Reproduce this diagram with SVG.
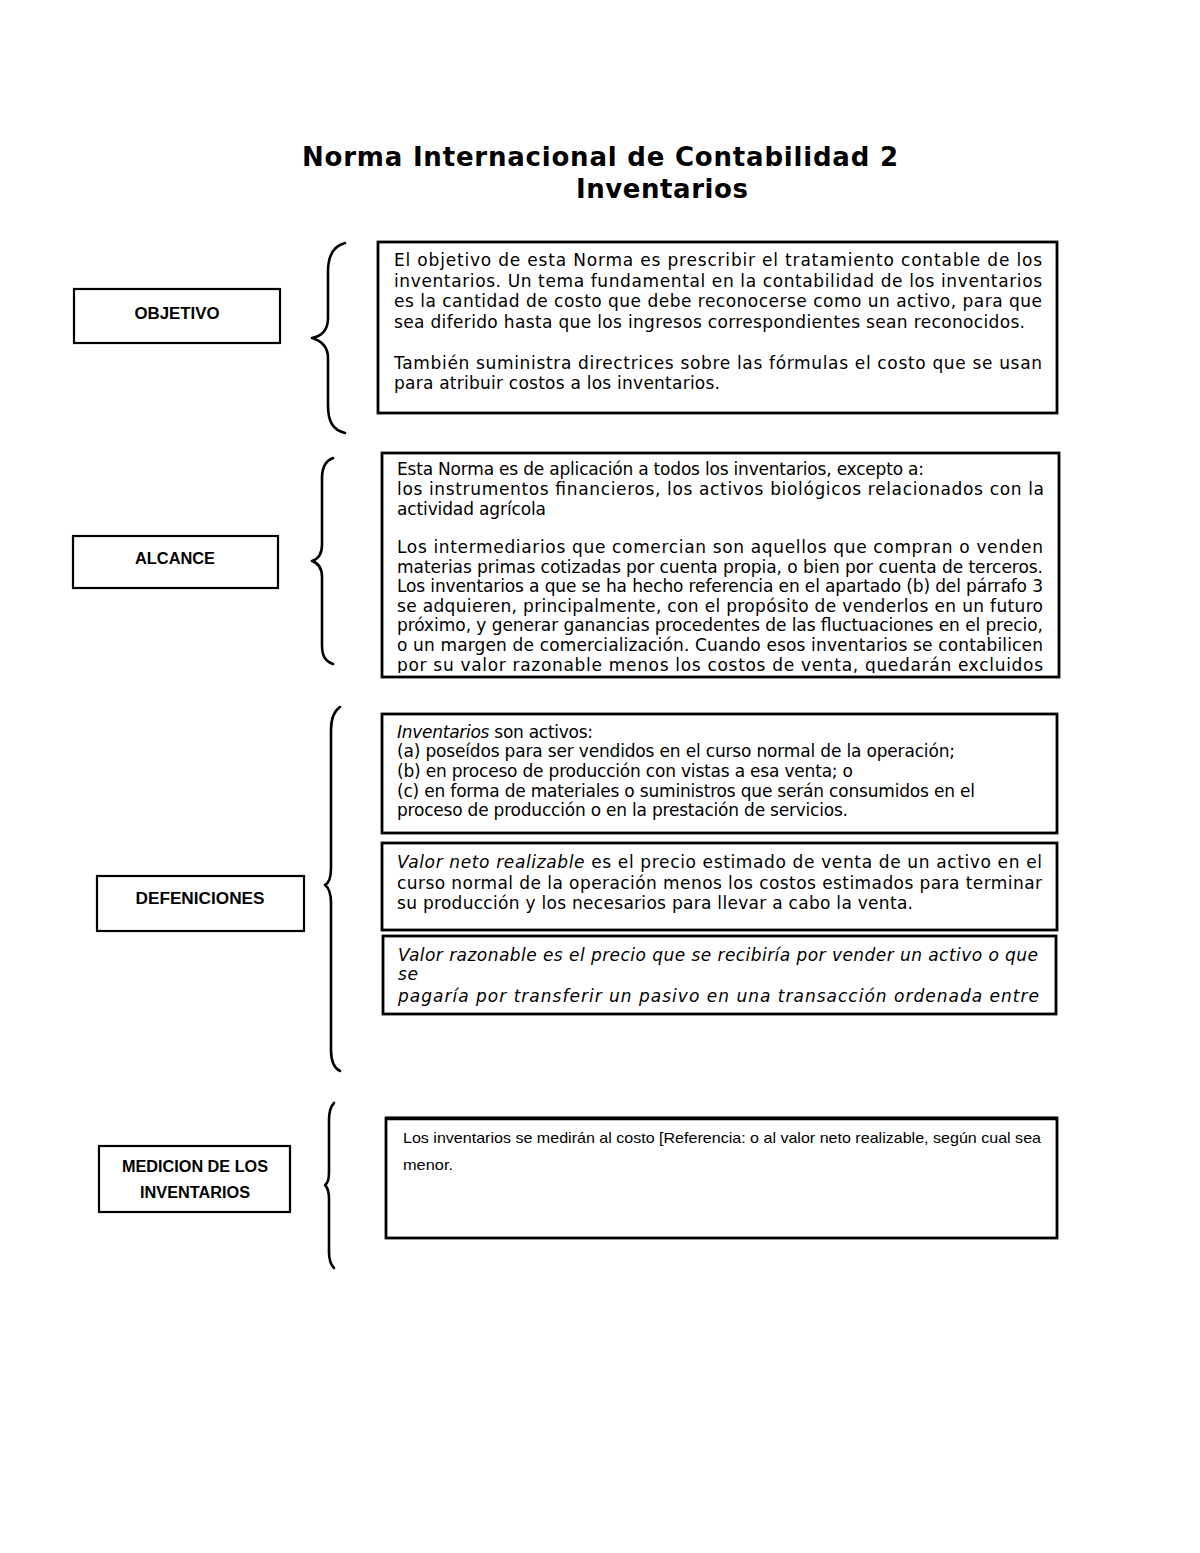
<svg xmlns="http://www.w3.org/2000/svg" width="1200" height="1553" viewBox="0 0 1200 1553">
<style>
.title{font-family:"DejaVu Sans",sans-serif;font-weight:bold;font-size:26px;fill:#000}
.lbl{font-family:"Liberation Sans",Arial,sans-serif;font-weight:bold;font-size:16px;fill:#000;text-anchor:middle}
.body{font-family:"DejaVu Sans",sans-serif;font-size:17px;fill:#000}
.it{font-style:italic}
.small{font-family:"Liberation Sans",Arial,sans-serif;font-size:14.5px;fill:#000}
.lbox{fill:#fff;stroke:#000;stroke-width:2.2}
.tbox{fill:#fff;stroke:#000;stroke-width:2.8}
.brace{fill:none;stroke:#000;stroke-width:2.6;stroke-linecap:round;stroke-linejoin:round}
</style>
<defs>
<clipPath id="clipAlc"><rect x="383" y="454" width="675" height="219"/></clipPath>
</defs>
<rect width="1200" height="1553" fill="#fff"/>
<g id="title">
<text class="title" x="302" y="166" textLength="596" lengthAdjust="spacing">Norma Internacional de Contabilidad 2</text>
<text class="title" x="576" y="198" textLength="172" lengthAdjust="spacing">Inventarios</text>
</g>
<g id="connectors">
<path class="brace" d="M345,243 C333,246 328,256 328,272 L328,318 C328,330 322,336 312,338 C322,341 328,347 328,358 L328,405 C328,422 333,430 345,433"/>
<path class="brace" d="M333,458 C325,461 322,468 322,478 L322,545 C322,554 318,559 312,561 C318,563 322,568 322,577 L322,645 C322,656 325,661 333,664"/>
<path class="brace" d="M340,707 C334,711 331,718 331,730 L331,868 C331,878 329,883 325,885 C329,888 331,893 331,903 L331,1050 C331,1062 334,1068 340,1071"/>
<path class="brace" d="M334,1103 C331,1106 329,1112 329,1120 L329,1172 C329,1180 327,1184 325,1185 C327,1187 329,1191 329,1199 L329,1252 C329,1260 331,1265 334,1268"/>
</g>
<g id="objetivo">
<rect class="lbox" x="74" y="289" width="206" height="54"/>
<text class="lbl" x="177" y="319" textLength="85" lengthAdjust="spacingAndGlyphs">OBJETIVO</text>
</g>
<g id="objetivo-text">
<rect class="tbox" x="378" y="242" width="679" height="171"/>
<text class="body" x="394" y="266" textLength="648" lengthAdjust="spacing">El objetivo de esta Norma es prescribir el tratamiento contable de los</text>
<text class="body" x="394" y="287" textLength="648" lengthAdjust="spacing">inventarios. Un tema fundamental en la contabilidad de los inventarios</text>
<text class="body" x="394" y="307" textLength="648" lengthAdjust="spacing">es la cantidad de costo que debe reconocerse como un activo, para que</text>
<text class="body" x="394" y="328" textLength="631" lengthAdjust="spacing">sea diferido hasta que los ingresos correspondientes sean reconocidos.</text>
<text class="body" x="394" y="369" textLength="648" lengthAdjust="spacing">También suministra directrices sobre las fórmulas el costo que se usan</text>
<text class="body" x="394" y="389" textLength="326" lengthAdjust="spacing">para atribuir costos a los inventarios.</text>
</g>
<g id="alcance">
<rect class="lbox" x="73" y="536" width="205" height="52"/>
<text class="lbl" x="175" y="564" textLength="80" lengthAdjust="spacingAndGlyphs">ALCANCE</text>
</g>
<g id="alcance-text">
<rect class="tbox" x="382" y="453" width="677" height="224"/>
<g clip-path="url(#clipAlc)">
<text class="body" x="397" y="475" textLength="527" lengthAdjust="spacing">Esta Norma es de aplicación a todos los inventarios, excepto a:</text>
<text class="body" x="397" y="495" textLength="647" lengthAdjust="spacing">los instrumentos financieros, los activos biológicos relacionados con la</text>
<text class="body" x="397" y="515" textLength="149" lengthAdjust="spacing">actividad agrícola</text>
<text class="body" x="397" y="553" textLength="646" lengthAdjust="spacing">Los intermediarios que comercian son aquellos que compran o venden</text>
<text class="body" x="397" y="573" textLength="646" lengthAdjust="spacing">materias primas cotizadas por cuenta propia, o bien por cuenta de terceros.</text>
<text class="body" x="397" y="592" textLength="646" lengthAdjust="spacing">Los inventarios a que se ha hecho referencia en el apartado (b) del párrafo 3</text>
<text class="body" x="397" y="612" textLength="646" lengthAdjust="spacing">se adquieren, principalmente, con el propósito de venderlos en un futuro</text>
<text class="body" x="397" y="631" textLength="646" lengthAdjust="spacing">próximo, y generar ganancias procedentes de las fluctuaciones en el precio,</text>
<text class="body" x="397" y="651" textLength="646" lengthAdjust="spacing">o un margen de comercialización. Cuando esos inventarios se contabilicen</text>
<text class="body" x="397" y="671" textLength="646" lengthAdjust="spacing">por su valor razonable menos los costos de venta, quedarán excluidos</text>
</g>
</g>
<g id="definiciones">
<rect class="lbox" x="97" y="876" width="207" height="55"/>
<text class="lbl" x="200" y="904" textLength="129" lengthAdjust="spacingAndGlyphs">DEFENICIONES</text>
</g>
<g id="def-inventarios">
<rect class="tbox" x="382" y="714" width="675" height="119"/>
<text class="body" x="397" y="738" textLength="196" lengthAdjust="spacing"><tspan class="it">Inventarios</tspan> son activos:</text>
<text class="body" x="397" y="757" textLength="558" lengthAdjust="spacing">(a) poseídos para ser vendidos en el curso normal de la operación;</text>
<text class="body" x="397" y="777" textLength="456" lengthAdjust="spacing">(b) en proceso de producción con vistas a esa venta; o</text>
<text class="body" x="397" y="797" textLength="578" lengthAdjust="spacing">(c) en forma de materiales o suministros que serán consumidos en el</text>
<text class="body" x="397" y="816" textLength="451" lengthAdjust="spacing">proceso de producción o en la prestación de servicios.</text>
</g>
<g id="def-vnr">
<rect class="tbox" x="382" y="843" width="675" height="87"/>
<text class="body" x="397" y="868" textLength="645" lengthAdjust="spacing"><tspan class="it">Valor neto realizable</tspan> es el precio estimado de venta de un activo en el</text>
<text class="body" x="397" y="889" textLength="645" lengthAdjust="spacing">curso normal de la operación menos los costos estimados para terminar</text>
<text class="body" x="397" y="909" textLength="516" lengthAdjust="spacing">su producción y los necesarios para llevar a cabo la venta.</text>
</g>
<g id="def-vr">
<rect class="tbox" x="383" y="936" width="673" height="78"/>
<text class="body it" x="398" y="961" textLength="640" lengthAdjust="spacing">Valor razonable es el precio que se recibiría por vender un activo o que</text>
<text class="body it" x="398" y="980" textLength="20" lengthAdjust="spacing">se</text>
<text class="body it" x="398" y="1002" textLength="641" lengthAdjust="spacing">pagaría por transferir un pasivo en una transacción ordenada entre</text>
</g>
<g id="medicion">
<rect class="lbox" x="99" y="1146" width="191" height="66"/>
<text class="lbl" x="195" y="1172" textLength="146" lengthAdjust="spacingAndGlyphs">MEDICION DE LOS</text>
<text class="lbl" x="195" y="1198" textLength="110" lengthAdjust="spacingAndGlyphs">INVENTARIOS</text>
</g>
<g id="medicion-text">
<rect class="tbox" x="386" y="1118" width="671" height="120"/>
<line x1="386" y1="1118.5" x2="1057" y2="1118.5" stroke="#000" stroke-width="3.5"/>
<text class="small" x="403" y="1143" textLength="638" lengthAdjust="spacingAndGlyphs">Los inventarios se medirán al costo [Referencia: o al valor neto realizable, según cual sea</text>
<text class="small" x="403" y="1170" textLength="50" lengthAdjust="spacingAndGlyphs">menor.</text>
</g>
</svg>
